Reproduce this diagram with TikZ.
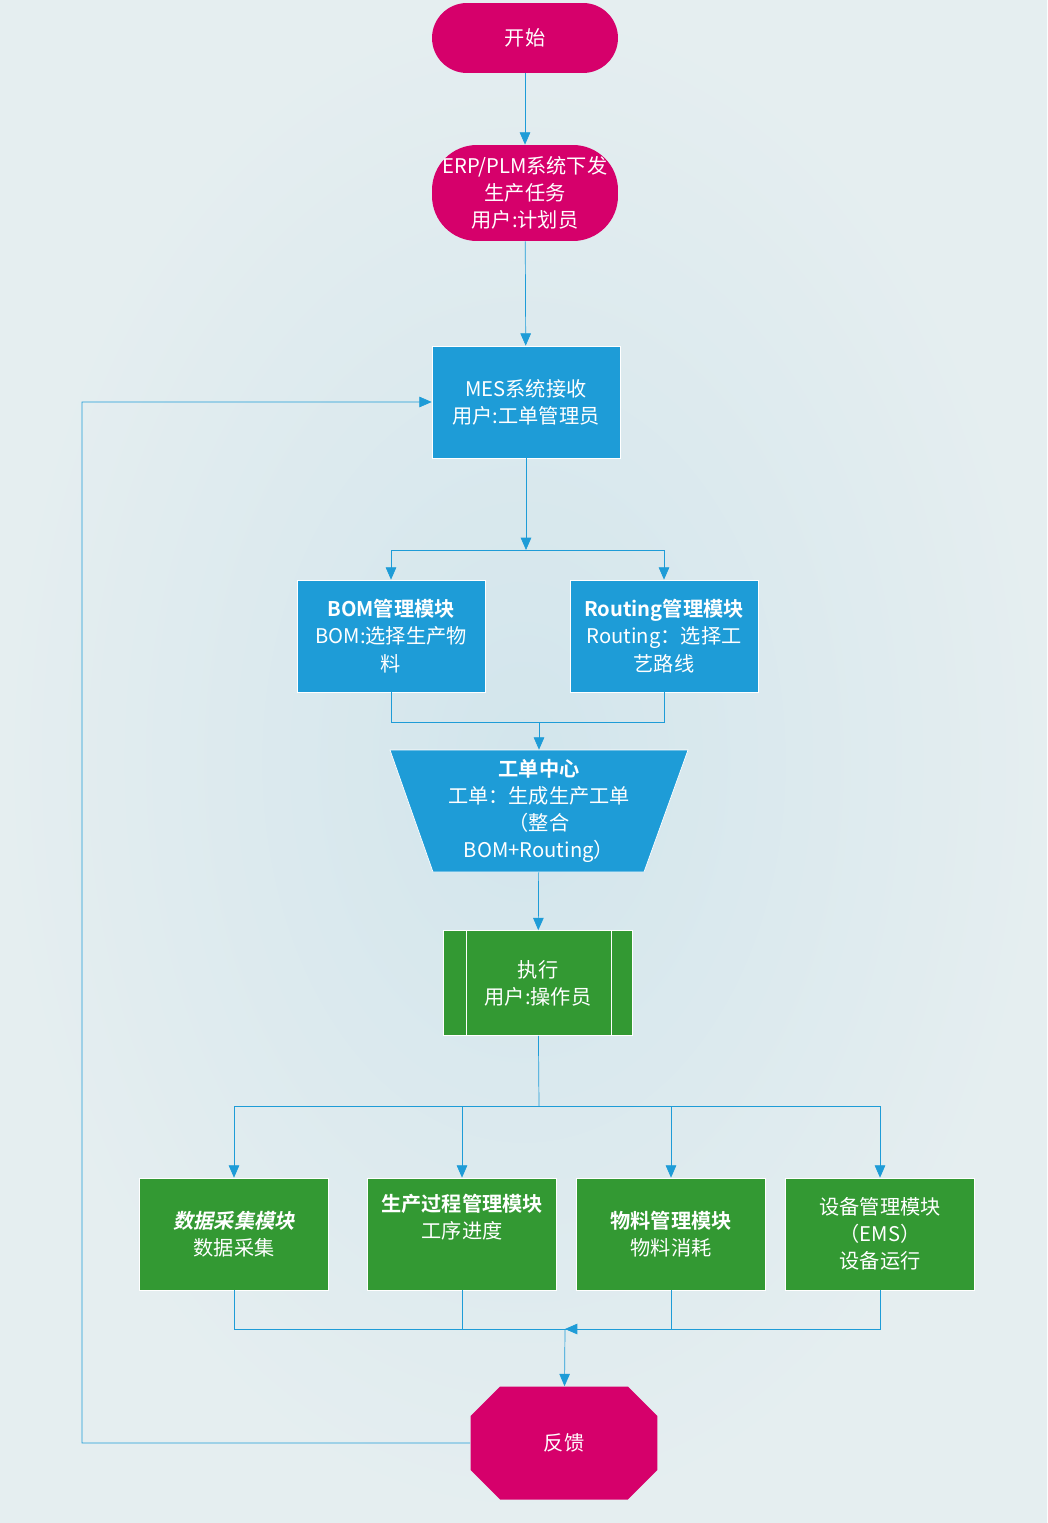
\documentclass[tikz,border=0pt]{standalone}
\usepackage{fontspec}
\setmainfont{Noto Sans CJK SC}[BoldFont={Noto Sans CJK SC Bold},
  ItalicFont={Noto Sans CJK SC}, ItalicFeatures={FakeSlant=0.2},
  BoldItalicFont={Noto Sans CJK SC Bold}, BoldItalicFeatures={FakeSlant=0.2}]
\usetikzlibrary{positioning,arrows.meta,shapes.misc}
\definecolor{rose}{HTML}{D6006B}
\definecolor{azur}{HTML}{1E9CD7}
\definecolor{vert}{HTML}{339933}
\definecolor{fondin}{HTML}{D2E5EC}
\definecolor{fondout}{HTML}{E5EEF0}

\begin{document}
\begin{tikzpicture}[x=0.02cm,y=-0.02cm,
    font=\fontsize{11.5}{15.5}\selectfont,
    term/.style={rectangle, fill=rose, text=white, align=center, minimum width=3.72cm},
    etape/.style={rectangle, draw=white, thin, fill=azur, text=white, align=center, minimum width=3.76cm, minimum height=2.24cm},
    act/.style={rectangle, draw=white, thin, fill=vert, text=white, align=center, minimum width=3.78cm, minimum height=2.24cm},
    flow/.style={-{Triangle[length=7pt,width=6pt]}, azur, thin},
    link/.style={azur, thin}]
    % fond
    \shade[inner color=fondin, outer color=fondout] (0,0) rectangle (1047,1523);
    \useasboundingbox (0,0) rectangle (1047,1523);

    \node[term, rounded corners=0.7cm, minimum height=1.4cm] (debut) at (525,38) {开始};
    \node[term, rounded corners=0.9cm, minimum height=1.92cm] (erp) at (525,193) {ERP/PLM系统下发\\生产任务\\用户:计划员};
    \node[etape] (mes) at (526,402) {MES系统接收\\用户:工单管理员};

    \node[etape] (bom) at (391,636) {\textbf{BOM管理模块}\\BOM:选择生产物\\料};
    \node[etape] (routing) at (664,636) {\textbf{Routing管理模块}\\Routing：选择工\\艺路线};

    % trapeze
    \fill[azur] (390,750) -- (688,750) -- (644,872) -- (433,872) -- cycle;
    \draw[white, thin] (390,750) -- (688,750) -- (644,872) -- (433,872) -- cycle;
    \node[align=center, text=white, minimum width=5.96cm, minimum height=2.44cm] (centre) at (539,811) {\textbf{工单中心}\\工单：生成生产工单\\（整合\\BOM+Routing）};

    \node[act, minimum width=3.78cm, minimum height=2.1cm] (exec) at (538,983) {执行\\用户:操作员};
    \draw[white, thin] (466,930) -- (466,1035) (611,930) -- (611,1035);

    \node[act] (collecte) at (234,1234) {\textbf{\textit{数据采集模块}}\\数据采集};
    \node[act] (process) at (462,1234) {\textbf{生产过程管理模块}\\工序进度\\[0.4em]};
    \node[act] (matiere) at (671,1234) {\textbf{物料管理模块}\\物料消耗};
    \node[act] (equip) at (880,1234) {设备管理模块\\（EMS）\\设备运行};

    \node[chamfered rectangle, chamfered rectangle xsep=0.8cm, chamfered rectangle ysep=1.13cm,
          fill=rose, text=white, minimum width=3.74cm, minimum height=2.26cm, inner sep=0pt] (retour) at (564,1443) {反馈};

    \coordinate (split1) at (526,550);
    \coordinate (merge1) at (539,722);
    \coordinate (split2) at (539,1106);
    \coordinate (merge2) at (565,1329);
    \coordinate (boucle) at (82,1443);

    \draw[flow] (debut) -- (erp);
    \draw[flow] (erp) -- (mes);
    \draw[flow] (mes) -- (split1);
    \draw[flow] (split1) -| (bom);
    \draw[flow] (split1) -| (routing);
    \draw[link] (bom) |- (merge1);
    \draw[link] (routing) |- (merge1);
    \draw[flow] (merge1) -- (centre);
    \draw[flow] (centre) -- (exec);
    \draw[link] (exec) -- (split2);
    \draw[flow] (split2) -| (collecte);
    \draw[flow] (split2) -| (process);
    \draw[flow] (split2) -| (matiere);
    \draw[flow] (split2) -| (equip);
    \draw[link] (collecte) |- (merge2);
    \draw[link] (process) |- (merge2);
    \draw[link] (matiere) |- (merge2);
    \draw[flow] (equip) |- (merge2);
    \draw[flow] (merge2) -- (retour);
    \draw[flow] (retour) -- (boucle) |- (mes);
\end{tikzpicture}
\end{document}
